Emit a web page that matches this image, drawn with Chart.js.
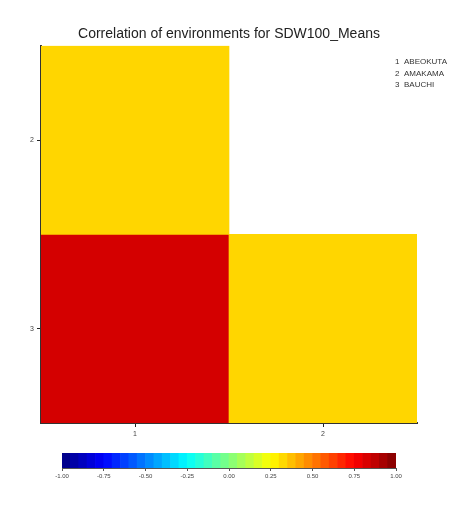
<!DOCTYPE html>
<html>
<head>
<meta charset="utf-8">
<script src="https://cdn.jsdelivr.net/npm/chart.js@4"></script>
<style>
  body { margin: 0; background: #fff; }
  #wrap { position: relative; width: 474px; height: 515px; }
  #heat { position: absolute; left: 0; top: 0; }
  #bar { position: absolute; left: 0; top: 440px; }
</style>
</head>
<body>
<div id="wrap">
  <canvas id="heat" width="474" height="515"></canvas>
  <canvas id="bar" width="474" height="60"></canvas>
</div>
<script>
// environments, numbered 1..3
const envNames = ['ABEOKUTA', 'AMAKAMA', 'BAUCHI'];
const colEnvs = ['1', '2'];
const rowEnvs = [2, 3];
// lower triangle of the correlation matrix (null = no cell)
const row2Corr = [0.33, null];
const row3Corr = [0.835, 0.33];
// colour key
const keyTicks = [-1, -0.75, -0.5, -0.25, 0, 0.25, 0.5, 0.75, 1];
const keyStep = 0.05;

function clamp(v) { return Math.max(0, Math.min(1, v)); }
function jet(v) {
    const t = (v + 1) / 2;
    const r = clamp(1.5 - Math.abs(4 * t - 3));
    const g = clamp(1.5 - Math.abs(4 * t - 2));
    const b = clamp(1.5 - Math.abs(4 * t - 1));
    return `rgb(${Math.round(r * 255)}, ${Math.round(g * 255)}, ${Math.round(b * 255)})`;
}

function rowDataset(row, corrs) {
    return {
        data: corrs.map(v => v === null ? null : [row - 0.5, row + 0.5]),
        backgroundColor: corrs.map(v => v === null ? 'rgba(0,0,0,0)' : jet(v)),
        borderWidth: 0,
        grouped: false,
        barPercentage: 1,
        categoryPercentage: 1
    };
}

const envLegend = {
    id: 'envLegend',
    afterDraw(chart) {
        const ctx = chart.ctx;
        ctx.save();
        ctx.font = '8px "Liberation Sans", Arial, sans-serif';
        ctx.fillStyle = '#333';
        ctx.textBaseline = 'middle';
        envNames.forEach((name, i) => {
            const y = 62 + i * 11.5;
            ctx.fillText(String(i + 1), 395, y);
            ctx.fillText(name, 404, y);
        });
        ctx.restore();
    }
};

const tickFont = { family: '"Liberation Sans", Arial, sans-serif', size: 7 };

new Chart(document.getElementById('heat'), {
    type: 'bar',
    data: {
        labels: colEnvs,
        datasets: [rowDataset(rowEnvs[0], row2Corr), rowDataset(rowEnvs[1], row3Corr)]
    },
    options: {
        responsive: false,
        animation: false,
        layout: { padding: { left: 30, right: 57, top: 0, bottom: 72 } },
        plugins: {
            legend: { display: false },
            tooltip: { enabled: false },
            title: {
                display: true,
                fullSize: false,
                text: 'Correlation of environments for SDW100_Means',
                color: '#222',
                font: { family: '"Liberation Sans", Arial, sans-serif', size: 14, weight: 'normal' },
                padding: { top: 26, bottom: 3 }
            }
        },
        scales: {
            x: {
                grid: { display: true, drawOnChartArea: false, offset: false, tickLength: 4, tickColor: '#222' },
                border: { display: true, color: '#333', width: 2 },
                ticks: { color: '#444', font: tickFont, padding: 3 },
                afterFit: s => { s.height = 20; }
            },
            y: {
                type: 'linear',
                reverse: true,
                min: 1.5,
                max: 3.5,
                afterBuildTicks: s => { s.ticks = rowEnvs.map(v => ({ value: v })); },
                grid: { display: true, drawOnChartArea: false, tickLength: 4, tickColor: '#222' },
                border: { display: true, color: '#333', width: 2 },
                ticks: { color: '#444', font: tickFont, padding: 3 },
                afterFit: s => { s.width = 11; }
            }
        }
    },
    plugins: [envLegend]
});

// colour key bins
const keyBins = [];
for (let lo = keyTicks[0]; lo < keyTicks[keyTicks.length - 1] - 1e-9; lo += keyStep) {
    keyBins.push({ x: [lo, lo + keyStep], y: 'key' });
}

new Chart(document.getElementById('bar'), {
    type: 'bar',
    data: {
        labels: ['key'],
        datasets: [{
            data: keyBins,
            backgroundColor: keyBins.map(b => jet((b.x[0] + b.x[1]) / 2)),
            borderWidth: 0,
            barPercentage: 1,
            categoryPercentage: 1
        }]
    },
    options: {
        indexAxis: 'y',
        responsive: false,
        animation: false,
        layout: { padding: { left: 62, right: 78, top: 13, bottom: 20 } },
        plugins: { legend: { display: false }, tooltip: { enabled: false } },
        scales: {
            x: {
                type: 'linear',
                min: keyTicks[0],
                max: keyTicks[keyTicks.length - 1],
                afterBuildTicks: s => { s.ticks = keyTicks.map(v => ({ value: v })); },
                grid: { display: true, drawOnChartArea: false, tickLength: 3, tickColor: '#555' },
                border: { display: true, color: '#555', width: 1 },
                ticks: {
                    color: '#444',
                    font: { family: '"Liberation Sans", Arial, sans-serif', size: 6 },
                    padding: 2,
                    maxRotation: 0,
                    autoSkip: false,
                    callback: v => Number(v).toFixed(2)
                },
                afterFit: s => { s.height = 12; }
            },
            y: { display: false }
        }
    }
});
</script>
</body>
</html>
